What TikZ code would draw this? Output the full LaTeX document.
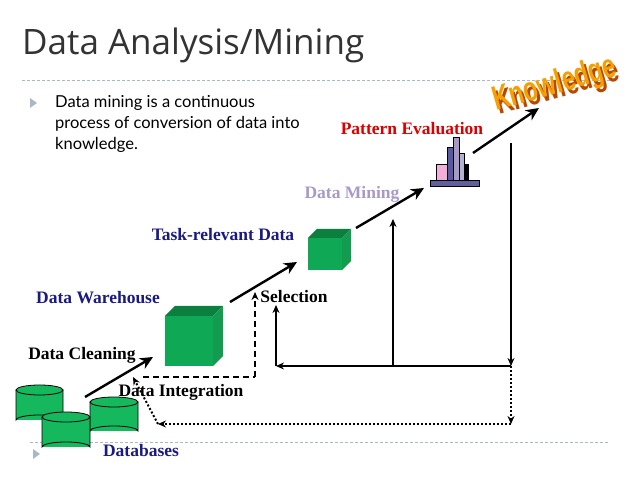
\documentclass[tikz,border=0pt]{standalone}
\usepackage{fontspec}
\setmainfont{Liberation Serif}
\newfontfamily\slidefont{Lato}
\newfontfamily\titlefont{Open Sans}
\newfontfamily\knowfont{Liberation Sans}[FakeStretch=0.7]
\usetikzlibrary{arrows.meta}
\definecolor{navy}{HTML}{1A1A80}
\definecolor{lilac}{HTML}{A899C8}
\definecolor{rule}{HTML}{A8B8C8}
\definecolor{cubefront}{HTML}{0FA855}
\definecolor{cubetop}{HTML}{0A7F3E}
\definecolor{cubeside}{HTML}{16B85E}
\definecolor{orangeK}{HTML}{F5A000}
\definecolor{orangeD}{HTML}{B84800}
\tikzset{
  lbl/.style={font=\bfseries\fontsize{17.5}{17.5}\selectfont, inner sep=0pt},
  flow/.style={line width=2.4pt, -{Stealth[length=13pt,width=12pt]}},
  back/.style={line width=2pt, -{Stealth[length=8pt,width=7pt]}},
  dashedback/.style={back, dash pattern=on 6pt off 4pt},
  dottedback/.style={back, dash pattern=on 2pt off 2pt},
  cyl/.style={fill=cubeside, draw=black, line width=0.8pt},
  know/.style={font=\knowfont\bfseries\fontsize{34}{34}\selectfont, inner sep=0pt, rotate=16},
}
\newcommand{\drawcube}[5]{% x y w h d
  \fill[cubetop] (#1,#2) -- ++(#5,-#5) -- ++(#3,0) -- ++(-#5,#5) -- cycle;
  \fill[cubeside!85!black] (#1+#3,#2) -- ++(#5,-#5) -- ++(0,#4) -- ++(-#5,#5) -- cycle;
  \fill[cubefront] (#1,#2) rectangle ++(#3,#4);
}
\newcommand{\drawcyl}[4]{% cx top width height
  \fill[cubeside] (#1-#3/2,#2) rectangle (#1+#3/2,#2+#4);
  \draw[cyl] (#1-#3/2,#2) -- (#1-#3/2,#2+#4) arc[start angle=180,end angle=360,x radius=#3/2,y radius=5] -- (#1+#3/2,#2);
  \draw[cyl] (#1,#2) ellipse[x radius=#3/2,y radius=5];
}
\begin{document}
\begin{tikzpicture}[x=1pt,y=-1pt]
\useasboundingbox (0,0) rectangle (638,478);
% title and rules
\node[anchor=base west, inner sep=0pt, font=\titlefont\fontsize{35}{35}\selectfont, text=black!80] (title) at (22,55) {Data Analysis/Mining};
\draw[rule, dash pattern=on 3pt off 2pt] (22,80) -- (610,80);
\draw[rule, dash pattern=on 3pt off 2pt] (30,442) -- (610,442);
\fill[rule] (30,98) -- (37,103) -- (30,108) -- cycle;
\fill[rule] (33,449) -- (40,454) -- (33,459) -- cycle;
\node[anchor=north west, inner sep=0pt, align=left, font=\slidefont\fontsize{16.5}{21}\selectfont] (bullet) at (55,95)
  {Data mining is a continuous\\process of conversion of data into\\knowledge.};
% knowledge
\node[know, text=orangeD] (knowshadow) at (558,89) {Knowledge};
\node[know, text=orangeK] (know) at (555,85) {Knowledge};
% cubes
\drawcube{165}{316}{48}{50}{10}
\drawcube{308}{238}{34}{32}{9}
% histogram
\fill[violet!20!pink!80!magenta!60] (436,164) rectangle (447,180);
\draw[line width=0.5pt] (436,164) rectangle (447,180);
\fill[blue!30!gray] (447,147) rectangle (453,180);
\fill[lilac] (453,137) rectangle (459,180);
\fill[blue!20!gray!50] (459,153) rectangle (464,180);
\fill[black] (464,164) rectangle (469,180);
\draw[line width=0.5pt] (447,147) rectangle (453,180) (453,137) rectangle (459,180) (459,153) rectangle (464,180);
\fill[blue!25!gray] (430,180) rectangle (479,186);
\draw[line width=0.5pt] (430,180) rectangle (479,186);
% databases
\drawcyl{39.5}{390}{47}{30}
\drawcyl{114}{402}{48}{29}
\drawcyl{66}{417}{48}{30}
% labels
\node[lbl, text=red!85!black] (pe) at (412,129) {Pattern Evaluation};
\node[lbl, text=lilac] (dm) at (352,194) {Data Mining};
\node[lbl, text=navy] (trd) at (223,235) {Task-relevant Data};
\node[lbl, text=navy] (dw) at (98,298) {Data Warehouse};
\node[lbl] (sel) at (294,297) {Selection};
\node[lbl] (dc) at (82,355) {Data Cleaning};
\node[lbl] (di) at (181,392) {Data Integration};
\node[lbl, text=navy] (db) at (141,451) {Databases};
% forward arrows
\coordinate (a1) at (85,397); \coordinate (a2) at (153,357);
\coordinate (b1) at (230,302); \coordinate (b2) at (297,262);
\coordinate (c1) at (356,228); \coordinate (c2) at (424,188);
\coordinate (d1) at (473,153); \coordinate (d2) at (539,108);
\draw[flow] (a1) -- (a2);
\draw[flow] (b1) -- (b2);
\draw[flow] (c1) -- (c2);
\draw[flow] (d1) -- (d2);
% feedback
\coordinate (r1) at (511,143); \coordinate (r2) at (511,366);
\coordinate (s1) at (276,366); \coordinate (s2) at (276,305);
\coordinate (m1) at (393,366); \coordinate (m2) at (393,219);
\coordinate (q1) at (511,424); \coordinate (q2) at (158,424);
\coordinate (p2) at (133,377);
\coordinate (h1) at (255,377); \coordinate (h2) at (143,377); \coordinate (h3) at (255,292);
\draw[back] (r1) -- (r2);
\draw[back] (r2) -- (s1);
\draw[back] (s1) -- (s2);
\draw[back] (m1) -- (m2);
\draw[dottedback] (r2) -- (q1);
\draw[dottedback] (q1) -- (q2);
\draw[dottedback] (q2) -- (p2);
\draw[line width=2pt, dash pattern=on 6pt off 4pt] (h2) -- (h1);
\draw[dashedback] (h1) -- (h3);
\end{tikzpicture}
\end{document}
